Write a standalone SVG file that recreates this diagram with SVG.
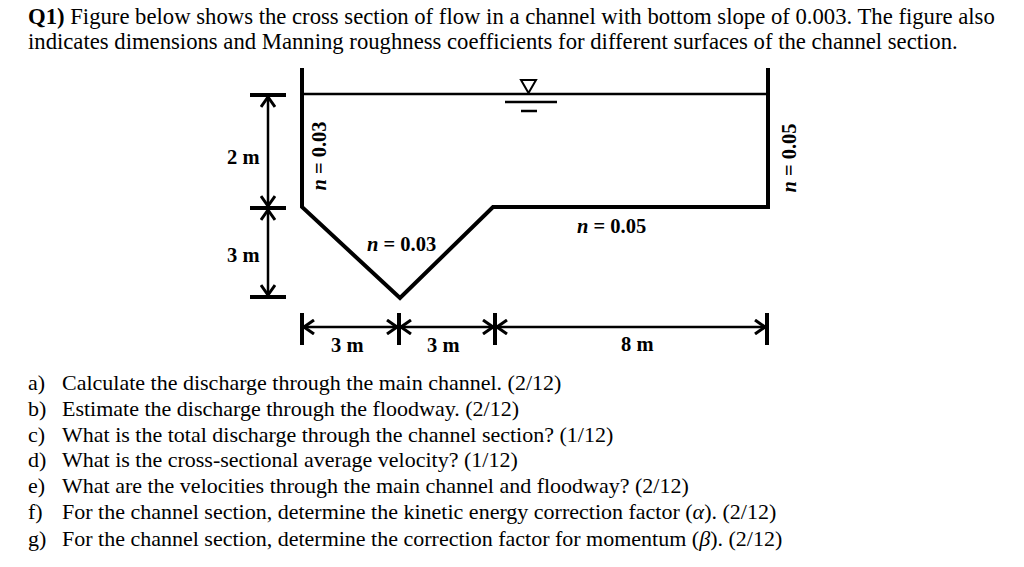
<svg xmlns="http://www.w3.org/2000/svg" width="1024" height="567" viewBox="0 0 1024 567">
<style>
text{font-family:"Liberation Serif",serif;font-size:22px;fill:#000}
.h{font-size:22.7px}
.b{font-weight:bold;font-size:20.5px}
.t{stroke:#000;stroke-width:2.5;fill:none}
.k{stroke:#000;stroke-width:4;fill:none}
.d{stroke:#000;stroke-width:2.5;fill:none}
</style>
<defs><marker id="a" markerWidth="14" markerHeight="16" refX="12" refY="8" orient="auto-start-reverse" markerUnits="userSpaceOnUse"><path d="M2,1 L12,8 L2,15" stroke="#000" stroke-width="3" fill="none"/></marker></defs>
<rect width="1024" height="567" fill="#fff"/>
<text class="h" x="28" y="24"><tspan font-weight="bold">Q1)</tspan> Figure below shows the cross section of flow in a channel with bottom slope of 0.003. The figure also</text>
<text class="h" x="28" y="49">indicates dimensions and Manning roughness coefficients for different surfaces of the channel section.</text>
<g id="channel">
<path class="k" d="M302,68 V207 L400,298 L493,207 H768 V68"/>
<line class="t" x1="302" y1="94" x2="767" y2="94"/>
</g>
<g id="water-symbol">
<path d="M521,80 H536 L528.5,93 Z" fill="#fff" stroke="#000" stroke-width="2"/>
<line class="t" x1="505" y1="102" x2="557" y2="102"/>
<line class="t" x1="521" y1="111" x2="537" y2="111"/>
</g>
<g id="dims">
<line class="k" x1="250" y1="95" x2="286" y2="95"/>
<line class="k" x1="250" y1="208" x2="286" y2="208"/>
<line class="k" x1="250" y1="297" x2="286" y2="297"/>
<line class="d" x1="268" y1="97" x2="268" y2="206" marker-start="url(#a)" marker-end="url(#a)"/>
<line class="d" x1="268" y1="210" x2="268" y2="295" marker-start="url(#a)" marker-end="url(#a)"/>
<line class="k" x1="302" y1="313" x2="302" y2="345"/>
<line class="k" x1="399" y1="313" x2="399" y2="345"/>
<line class="k" x1="495" y1="313" x2="495" y2="345"/>
<line class="k" x1="767" y1="313" x2="767" y2="345"/>
<line class="d" x1="304" y1="327" x2="397" y2="327" marker-start="url(#a)" marker-end="url(#a)"/>
<line class="d" x1="401" y1="327" x2="493" y2="327" marker-start="url(#a)" marker-end="url(#a)"/>
<line class="d" x1="497" y1="327" x2="765" y2="327" marker-start="url(#a)" marker-end="url(#a)"/>
</g>
<g id="labels">
<text class="b" x="227" y="164">2 m</text>
<text class="b" x="227" y="262">3 m</text>
<text class="b" x="331" y="352">3 m</text>
<text class="b" x="427" y="352">3 m</text>
<text class="b" x="621" y="351">8 m</text>
<text class="b" transform="translate(326,156) rotate(-90)" text-anchor="middle"><tspan font-style="italic">n</tspan> = 0.03</text>
<text class="b" transform="translate(796,158) rotate(-90)" text-anchor="middle"><tspan font-style="italic">n</tspan> = 0.05</text>
<text class="b" x="367" y="251"><tspan font-style="italic">n</tspan> = 0.03</text>
<text class="b" x="577" y="233"><tspan font-style="italic">n</tspan> = 0.05</text>
</g>
<g id="questions">
<text x="28" y="390">a)</text><text x="62" y="390">Calculate the discharge through the main channel. (2/12)</text>
<text x="28" y="416">b)</text><text x="62" y="416">Estimate the discharge through the floodway. (2/12)</text>
<text x="28" y="442">c)</text><text x="62" y="442">What is the total discharge through the channel section? (1/12)</text>
<text x="28" y="467">d)</text><text x="62" y="467">What is the cross-sectional average velocity? (1/12)</text>
<text x="28" y="493">e)</text><text x="62" y="493">What are the velocities through the main channel and floodway? (2/12)</text>
<text x="28" y="519">f)</text><text x="62" y="519">For the channel section, determine the kinetic energy correction factor (<tspan font-style="italic">α</tspan>). (2/12)</text>
<text x="28" y="546">g)</text><text x="62" y="546">For the channel section, determine the correction factor for momentum (<tspan font-style="italic">β</tspan>). (2/12)</text>
</g>
</svg>
